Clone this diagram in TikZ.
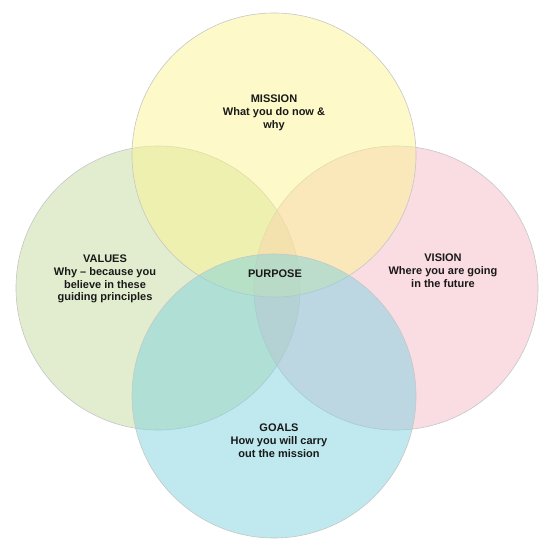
\documentclass[tikz,border=0pt]{standalone}
\usepackage{fontspec}
\setmainfont{Liberation Sans}
\usepackage{xcolor}
\usepackage{tikz}

\definecolor{valuesfill}{RGB}{197,219,159}
\definecolor{visionfill}{RGB}{245,185,199}
\definecolor{missionfill}{RGB}{251,243,145}
\definecolor{goalsfill}{RGB}{127,211,223}

\begin{document}
\begin{tikzpicture}[
    x=1pt, y=-1pt,
    ring/.style={circle, draw=gray!45, line width=0.6pt, fill opacity=0.5,
                 minimum size=284pt, inner sep=0pt},
    lbl/.style={align=center, text=black!90,
                font=\fontsize{11}{12.8}\selectfont\bfseries}
]
\useasboundingbox (0,0) rectangle (554,546);

% Circles
\node[ring, fill=valuesfill] (values) at (158,288) {};
\node[ring, fill=visionfill] (vision) at (396,288) {};
\node[ring, fill=missionfill] (mission) at (274,155) {};
\node[ring, fill=goalsfill] (goals) at (274,396) {};

% Labels
\node[lbl] (missiontxt) at (274,113) {MISSION\\What you do now \&\\why};
\node[lbl] (valuestxt) at (105,279) {VALUES\\Why -- because you\\believe in these\\guiding principles};
\node[lbl] (visiontxt) at (443,271) {VISION\\Where you are going\\in the future};
\node[lbl] (purposetxt) at (275,274) {PURPOSE};
\node[lbl] (goalstxt) at (279,441) {GOALS\\How you will carry\\out the mission};
\end{tikzpicture}
\end{document}
